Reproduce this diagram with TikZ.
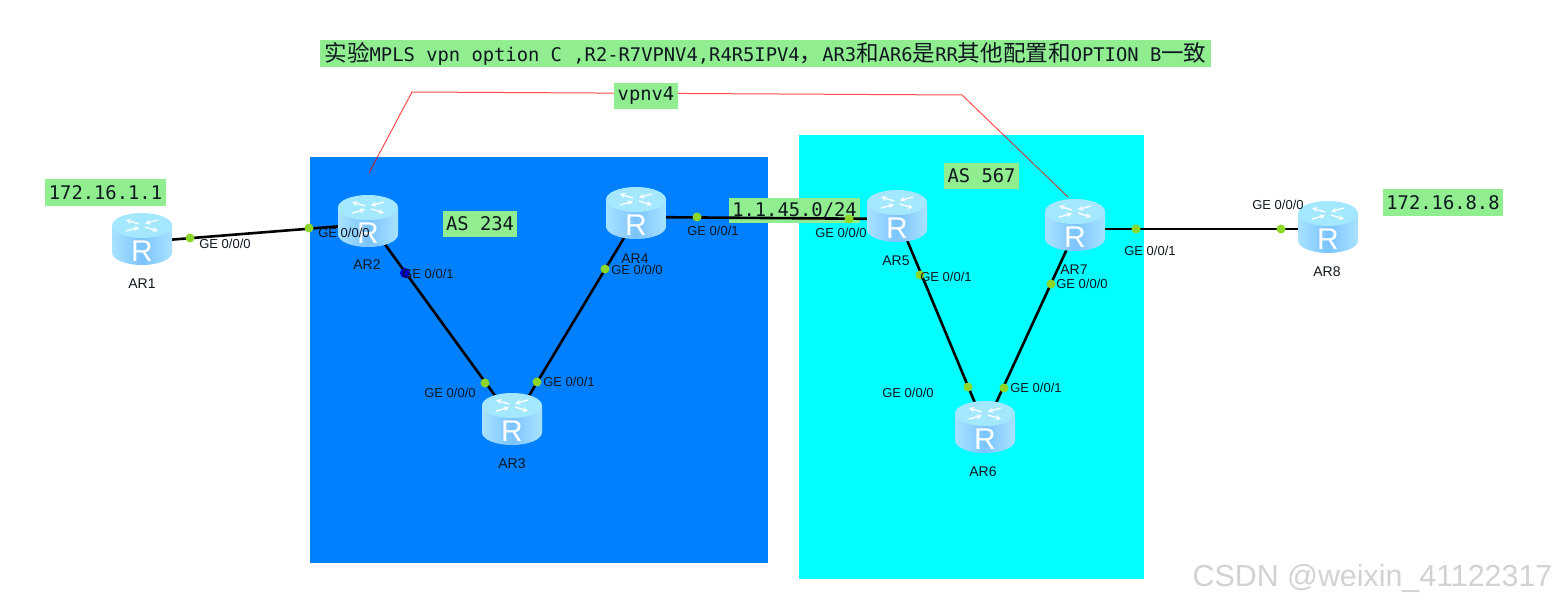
\documentclass[tikz,border=0pt]{standalone}
\usepackage{fontspec}
\setmainfont{Liberation Sans}
\newfontfamily\monofam{DejaVu Sans Mono}
\newfontfamily\zhfam[Scale=1.2]{Noto Sans CJK SC}
\newcommand{\zh}[1]{{\zhfam #1}}
\definecolor{asblue}{HTML}{0080FF}
\definecolor{ascyan}{HTML}{00FFFF}
\definecolor{notegreen}{HTML}{90EE90}
\definecolor{portgreen}{HTML}{8CD62A}
\definecolor{portblue}{HTML}{0000C8}
\definecolor{inktext}{HTML}{101820}
\definecolor{rtop}{HTML}{A4E8FF}
\definecolor{rside}{HTML}{A8E2FF}
\definecolor{rmid}{HTML}{7CC4FF}
\definecolor{wmgray}{HTML}{D2D2D2}
\tikzset{
  x=1pt,y=-1pt,
  routerbox/.style={minimum width=60pt,minimum height=52pt,inner sep=0pt},
  asregion/.style={inner sep=0pt,outer sep=0pt},
  notebox/.style={fill=notegreen,inner sep=0pt,outer sep=0pt,text=inktext,
    font=\monofam\fontsize{18.8}{20}\selectfont},
  portlabel/.style={inner sep=0pt,text=inktext,font=\fontsize{13}{14}\selectfont},
  namelabel/.style={inner sep=0pt,text=inktext,font=\fontsize{14}{15}\selectfont},
  link/.style={draw=black,line width=2.6pt},
  session/.style={draw=red,line width=1pt,opacity=.7},
  portdot/.style={circle,fill=portgreen,minimum size=9pt,inner sep=0pt},
  portdotb/.style={circle,fill=portblue,minimum size=10pt,inner sep=0pt},
  mark glyph/.style={white,line width=1.3pt,-stealth},
  pics/routericon/.style={code={
    \begin{scope}[x=1pt,y=1pt]
      \shade[left color=rside,right color=rside,middle color=rmid]
        (-30,13.5) -- (-30,-13.5) arc (180:360:30 and 12.5) -- (30,13.5) -- cycle;
      \fill[rtop] (0,13.5) ellipse (30 and 12.5);
      \begin{scope}[shift={(0,13.5)},yscale=.5]
        \draw[mark glyph] (-3,3) -- (-16,11);
        \draw[mark glyph] (16,11) -- (3,4);
        \draw[mark glyph] (3,-3) -- (16,-11);
        \draw[mark glyph] (-16,-11) -- (-3,-4);
      \end{scope}
    \end{scope}
  }},
}
\newcommand{\routerat}[1]{\pic at (#1) {routericon};
  \node[inner sep=0pt,text=white,font=\fontsize{30}{30}\selectfont] (#1R) at ([yshift=-12pt]#1.center) {R};}
\begin{document}
\begin{tikzpicture}
\useasboundingbox (0,0) rectangle (1558,605);
\fill[white] (0,0) rectangle (1558,605);
% regions
\node[asregion,fill=asblue,minimum width=458pt,minimum height=406pt] (as234) at (539,360) {};
\node[asregion,fill=ascyan,minimum width=345pt,minimum height=444pt] (as567) at (971.5,357) {};
% router anchors
\node[routerbox] (AR1) at (142,239) {};
\node[routerbox] (AR2) at (368,221) {};
\node[routerbox] (AR3) at (512,419) {};
\node[routerbox] (AR4) at (636,213) {};
\node[routerbox] (AR5) at (897,216) {};
\node[routerbox] (AR6) at (985,427) {};
\node[routerbox] (AR7) at (1075,225) {};
\node[routerbox] (AR8) at (1328,227) {};
% session line
\coordinate (redA) at (369,173);
\coordinate (redB) at (412,92);
\coordinate (redC) at (962,95);
\coordinate (redD) at (1068,197);
\draw[session] (redA) -- (redB) -- (redC) -- (redD);
% notes
\node[notebox,minimum width=891pt,minimum height=27pt] (title) at (765.5,53.5)
  {\zh{实验}MPLS vpn option C ,R2-R7VPNV4,R4R5IPV4\zh{，}AR3\zh{和}AR6\zh{是}RR\zh{其他配置和}OPTION B\zh{一致}};
\node[notebox,minimum width=64pt,minimum height=26pt] (vpn) at (646,96) {vpnv4};
\node[notebox,minimum width=121pt,minimum height=27pt] (ipa) at (105.5,192.5) {172.16.1.1};
\node[notebox,minimum width=120pt,minimum height=27pt] (ipb) at (1443,202.5) {172.16.8.8};
\node[notebox,minimum width=74pt,minimum height=26pt] (asa) at (480,224) {AS 234};
\node[notebox,minimum width=75pt,minimum height=26pt] (asb) at (981.5,176) {AS 567};
\node[notebox,minimum width=131pt,minimum height=25pt] (net) at (794.5,210.5) {1.1.45.0/24};
% links
\draw[link] ([yshift=-3pt]AR1.center) -- ([yshift=-3pt]AR2.center);
\draw[link] (AR2.center) -- (AR3.center);
\draw[link] ([xshift=3pt]AR3.center) -- ([xshift=3pt]AR4.center);
\draw[link] ([yshift=-4pt]AR4.center) -- ([yshift=-3pt]AR5.center);
\draw[link] (AR5.center) -- (AR6.center);
\draw[link] (AR6.center) -- ([xshift=3pt]AR7.center);
\draw[link] ([yshift=-4pt]AR7.center) -- ([yshift=-2pt]AR8.center);
% routers
\routerat{AR1}\routerat{AR2}\routerat{AR3}\routerat{AR4}
\routerat{AR5}\routerat{AR6}\routerat{AR7}\routerat{AR8}
% ports
\node[portdot] (p1) at (190,238) {};
\node[portdot] (p2) at (309,228) {};
\node[portdotb] (p3) at (405,273) {};
\node[portdot] (p4) at (485,383) {};
\node[portdot] (p5) at (537,382) {};
\node[portdot] (p6) at (605,269) {};
\node[portdot] (p7) at (697,217) {};
\node[portdot] (p8) at (849,219) {};
\node[portdot] (p9) at (920,275) {};
\node[portdot] (p10) at (968,387) {};
\node[portdot] (p11) at (1004,388) {};
\node[portdot] (p12) at (1051,284) {};
\node[portdot] (p13) at (1136,229) {};
\node[portdot] (p14) at (1281,229) {};
% port labels
\node[portlabel] (l1) at (225,244) {GE 0/0/0};
\node[portlabel] (l2) at (344,233) {GE 0/0/0};
\node[portlabel] (l3) at (428,274) {GE 0/0/1};
\node[portlabel] (l4) at (450,393) {GE 0/0/0};
\node[portlabel] (l5) at (569,382) {GE 0/0/1};
\node[portlabel] (l6) at (637,270) {GE 0/0/0};
\node[portlabel] (l7) at (713,231) {GE 0/0/1};
\node[portlabel] (l8) at (841,233) {GE 0/0/0};
\node[portlabel] (l9) at (946,277) {GE 0/0/1};
\node[portlabel] (l10) at (908,393) {GE 0/0/0};
\node[portlabel] (l11) at (1036,388) {GE 0/0/1};
\node[portlabel] (l12) at (1082,284) {GE 0/0/0};
\node[portlabel] (l13) at (1150,251) {GE 0/0/1};
\node[portlabel] (l14) at (1278,205) {GE 0/0/0};
% router names
\node[namelabel] (n1) at (142,284) {AR1};
\node[namelabel] (n2) at (367,265) {AR2};
\node[namelabel] (n3) at (512,464) {AR3};
\node[namelabel] (n4) at (635,259) {AR4};
\node[namelabel] (n5) at (896,261) {AR5};
\node[namelabel] (n6) at (983,472) {AR6};
\node[namelabel] (n7) at (1074,270) {AR7};
\node[namelabel] (n8) at (1327,272) {AR8};
% watermark
\node[inner sep=0pt,text=wmgray,font=\fontsize{30.4}{31}\selectfont] (wm) at (1372.5,578) {CSDN @weixin\_41122317};
\end{tikzpicture}
\end{document}
